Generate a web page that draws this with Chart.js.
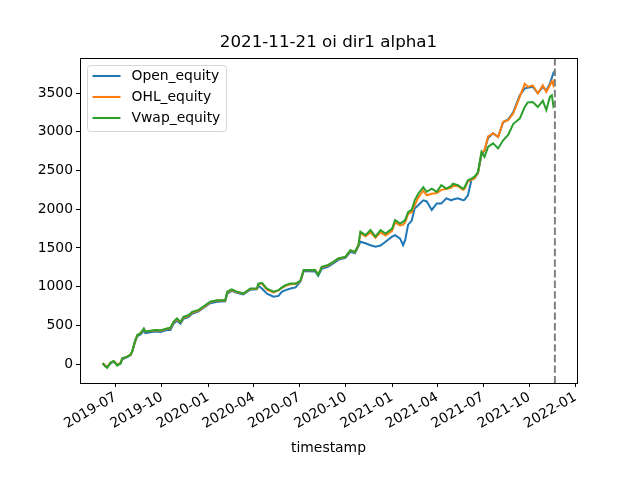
<!DOCTYPE html>
<html>
<head>
<meta charset="utf-8">
<script src="https://cdn.jsdelivr.net/npm/chart.js@4.4.0/dist/chart.umd.min.js"></script>
<style>
  html, body { margin: 0; padding: 0; background: #fff; }
  #wrap { width: 640px; height: 480px; }
</style>
</head>
<body>
<div id="wrap"><canvas id="equityChart" width="640" height="480"></canvas></div>
<script>
const dates = [
  "2019-06-05", "2019-06-10", "2019-06-14", "2019-06-21", "2019-06-27", "2019-07-04", "2019-07-11", "2019-07-14",
  "2019-07-24", "2019-07-31", "2019-08-03", "2019-08-08", "2019-08-13", "2019-08-19", "2019-08-26", "2019-08-29",
  "2019-09-08", "2019-09-18", "2019-09-28", "2019-10-11", "2019-10-18", "2019-10-24", "2019-10-31", "2019-11-07",
  "2019-11-13", "2019-11-23", "2019-11-30", "2019-12-13", "2019-12-26", "2020-01-05", "2020-01-19", "2020-02-04",
  "2020-02-08", "2020-02-17", "2020-02-27", "2020-03-11", "2020-03-25", "2020-04-07", "2020-04-10", "2020-04-17",
  "2020-04-27", "2020-05-10", "2020-05-20", "2020-05-27", "2020-06-03", "2020-06-13", "2020-06-23", "2020-06-29",
  "2020-07-03", "2020-07-09", "2020-07-16", "2020-08-01", "2020-08-07", "2020-08-14", "2020-08-27", "2020-09-06",
  "2020-09-16", "2020-09-30", "2020-10-10", "2020-10-19", "2020-10-26", "2020-10-30", "2020-11-09", "2020-11-19",
  "2020-11-29", "2020-12-09", "2020-12-19", "2021-01-01", "2021-01-07", "2021-01-17", "2021-01-23", "2021-01-27",
  "2021-02-02", "2021-02-09", "2021-02-15", "2021-02-22", "2021-03-04", "2021-03-11", "2021-03-21", "2021-03-31",
  "2021-04-09", "2021-04-19", "2021-04-29", "2021-05-02", "2021-05-12", "2021-05-22", "2021-05-25", "2021-06-01",
  "2021-06-08", "2021-06-14", "2021-06-21", "2021-06-28", "2021-07-04", "2021-07-11", "2021-07-21", "2021-07-31",
  "2021-08-10", "2021-08-20", "2021-08-30", "2021-09-12", "2021-09-22", "2021-09-28", "2021-10-08", "2021-10-18",
  "2021-10-28", "2021-11-04", "2021-11-11", "2021-11-15", "2021-11-18", "2021-11-20"
];

const openEquity = [
  10, -20, -40, 10, 30, -10, 10, 60,
  90, 115, 160, 270, 360, 380, 430, 400,
  410, 420, 415, 440, 440, 520, 560, 520,
  585, 605, 650, 680, 740, 785, 805, 810,
  910, 945, 920, 900, 960, 965, 1010, 975,
  910, 870, 880, 935, 955, 975, 990, 1040,
  1070, 1200, 1200, 1195, 1140, 1230, 1260, 1300,
  1345, 1370, 1450, 1430, 1520, 1580, 1560, 1535,
  1515, 1530, 1580, 1645, 1665, 1620, 1535, 1600,
  1800, 1850, 2010, 2050, 2115, 2100, 1990, 2075,
  2075, 2140, 2115, 2125, 2140, 2115, 2120, 2180,
  2380, 2400, 2470, 2700, 2760, 2920, 2980, 2935,
  3120, 3160, 3250, 3470, 3560, 3570, 3580, 3500,
  3580, 3530, 3620, 3700, 3760, 3780
];

const ohlEquity = [
  10, -20, -40, 20, 40, -10, 20, 70,
  95, 120, 165, 280, 370, 395, 450, 420,
  425, 435, 430, 455, 460, 540, 580, 540,
  600, 620, 665, 690, 750, 800, 820, 820,
  925, 955, 930, 910, 970, 970, 1030, 1040,
  960, 925, 950, 985, 1010, 1030, 1035, 1055,
  1080, 1210, 1210, 1210, 1160, 1250, 1275, 1315,
  1360, 1380, 1465, 1445, 1530, 1690, 1650, 1700,
  1630, 1700, 1660, 1720, 1830, 1790, 1800, 1830,
  1940, 1960, 2050, 2150, 2240, 2180, 2200, 2210,
  2250, 2260, 2280, 2300, 2300, 2250, 2260, 2360,
  2380, 2400, 2470, 2730, 2760, 2940, 2980, 2935,
  3130, 3150, 3235, 3450, 3620, 3580, 3600, 3495,
  3600, 3515, 3600, 3650, 3600, 3680
];

const vwapEquity = [
  10, -30, -50, 20, 40, -20, 10, 75,
  95, 125, 170, 290, 375, 395, 460, 420,
  430, 440, 435, 460, 470, 545, 590, 545,
  610, 630, 675, 700, 760, 805, 825, 825,
  935, 965, 935, 910, 975, 975, 1040, 1050,
  975, 935, 955, 990, 1020, 1040, 1040, 1060,
  1085, 1215, 1215, 1215, 1150, 1255, 1280, 1320,
  1365, 1385, 1470, 1450, 1535, 1710, 1665, 1730,
  1645, 1730, 1685, 1750, 1860, 1815, 1840, 1860,
  1965, 1990, 2115, 2200, 2285, 2225, 2265, 2225,
  2310, 2265, 2300, 2330, 2310, 2265, 2280, 2375,
  2395, 2420, 2480, 2740, 2675, 2805, 2850, 2785,
  2890, 2960, 3100, 3170, 3320, 3380, 3385, 3320,
  3400, 3280, 3450, 3470, 3330, 3350
];

const seriesNames = ["Open_equity", "OHL_equity", "Vwap_equity"];
const seriesColors = ["#1f77b4", "#ff7f0e", "#2ca02c"];
const xTickLabels = ["2019-07", "2019-10", "2020-01", "2020-04", "2020-07", "2020-10",
  "2021-01", "2021-04", "2021-07", "2021-10", "2022-01"];
const yTickValues = [0, 500, 1000, 1500, 2000, 2500, 3000, 3500];
const markerDate = "2021-11-21";
const chartTitle = "2021-11-21 oi dir1 alpha1";
const xRange = ["2019-04-21", "2022-01-04"];
const yRange = [-245, 3953];

const FONT = "'DejaVu Sans', sans-serif";

function toPoints(values) {
  return dates.map((d, i) => ({ x: Date.parse(d), y: values[i] }));
}

function monthLabel(value) {
  const d = new Date(value);
  return d.getUTCFullYear() + "-" + String(d.getUTCMonth() + 1).padStart(2, "0");
}

// spines on all four sides, dashed marker line, title centred over the axes
const axesFrame = {
  id: "axesFrame",
  afterDatasetsDraw(chart) {
    const { ctx, chartArea, scales } = chart;
    const xm = scales.x.getPixelForValue(Date.parse(markerDate));
    ctx.save();
    ctx.strokeStyle = "#808080";
    ctx.lineWidth = 2;
    ctx.setLineDash([7.4, 3.2]);
    ctx.beginPath();
    ctx.moveTo(xm, chartArea.top);
    ctx.lineTo(xm, chartArea.bottom);
    ctx.stroke();
    ctx.restore();
  },
  afterDraw(chart) {
    const { ctx, chartArea } = chart;
    ctx.save();
    ctx.strokeStyle = "#000";
    ctx.lineWidth = 1;
    ctx.strokeRect(Math.round(chartArea.left) + 0.5, Math.round(chartArea.top) + 0.5,
      Math.round(chartArea.right - chartArea.left), Math.round(chartArea.bottom - chartArea.top));

    ctx.fillStyle = "#000";
    ctx.font = "16.7px " + FONT;
    ctx.textAlign = "center";
    ctx.textBaseline = "middle";
    ctx.fillText(chartTitle, (chartArea.left + chartArea.right) / 2, chartArea.top - 15);
    ctx.restore();
  }
};

// matplotlib style legend inside the axes, upper left
const innerLegend = {
  id: "innerLegend",
  afterDraw(chart) {
    const { ctx, chartArea } = chart;
    const x0 = chartArea.left + 7.5;
    const y0 = chartArea.top + 7.5;
    const w = 139;
    const h = 66;
    const r = 3;
    ctx.save();
    ctx.fillStyle = "rgba(255,255,255,0.8)";
    ctx.strokeStyle = "#d6d6d6";
    ctx.lineWidth = 1;
    ctx.beginPath();
    ctx.moveTo(x0 + r, y0);
    ctx.arcTo(x0 + w, y0, x0 + w, y0 + h, r);
    ctx.arcTo(x0 + w, y0 + h, x0, y0 + h, r);
    ctx.arcTo(x0, y0 + h, x0, y0, r);
    ctx.arcTo(x0, y0, x0 + w, y0, r);
    ctx.closePath();
    ctx.fill();
    ctx.stroke();

    ctx.font = "13.9px " + FONT;
    ctx.textBaseline = "middle";
    ctx.textAlign = "left";
    chart.data.datasets.forEach((ds, i) => {
      const y = y0 + 10.5 + i * 21;
      ctx.strokeStyle = ds.borderColor;
      ctx.lineWidth = 2.1;
      ctx.beginPath();
      ctx.moveTo(x0 + 5, y);
      ctx.lineTo(x0 + 33, y);
      ctx.stroke();
      ctx.fillStyle = "#000";
      ctx.fillText(ds.label, x0 + 44, y);
    });
    ctx.restore();
  }
};

new Chart(document.getElementById("equityChart"), {
  type: "line",
  data: {
    datasets: [openEquity, ohlEquity, vwapEquity].map((values, i) => ({
      label: seriesNames[i],
      data: toPoints(values),
      borderColor: seriesColors[i],
      backgroundColor: seriesColors[i],
      borderWidth: 2,
      pointRadius: 0,
      tension: 0,
      fill: false,
      order: 2 - i
    }))
  },
  options: {
    responsive: false,
    animation: false,
    devicePixelRatio: 1,
    layout: { padding: { left: 0, right: 63, top: 58, bottom: 0 } },
    plugins: {
      legend: { display: false },
      tooltip: { enabled: false },
      title: { display: false }
    },
    scales: {
      x: {
        type: "linear",
        min: Date.parse(xRange[0]),
        max: Date.parse(xRange[1]),
        afterBuildTicks: scale => {
          scale.ticks = xTickLabels.map(l => ({ value: Date.parse(l + "-01") }));
        },
        afterFit: scale => { scale.height = 97; },
        grid: { drawOnChartArea: false, drawTicks: true, tickLength: 4, tickColor: "#000", tickWidth: 1 },
        border: { display: false },
        ticks: {
          autoSkip: false,
          minRotation: 30,
          maxRotation: 30,
          padding: 2,
          color: "#000",
          font: { family: FONT, size: 13.9 },
          callback: value => monthLabel(value)
        },
        title: {
          display: true,
          text: "timestamp",
          color: "#000",
          font: { family: FONT, size: 13.9 },
          padding: { top: 0, bottom: 23 }
        }
      },
      y: {
        type: "linear",
        min: yRange[0],
        max: yRange[1],
        afterBuildTicks: scale => {
          scale.ticks = yTickValues.map(v => ({ value: v }));
        },
        afterFit: scale => { scale.width = 80; },
        grid: { drawOnChartArea: false, drawTicks: true, tickLength: 4, tickColor: "#000", tickWidth: 1 },
        border: { display: false },
        ticks: {
          padding: 3,
          color: "#000",
          font: { family: FONT, size: 13.9 },
          callback: value => String(value)
        }
      }
    }
  },
  plugins: [axesFrame, innerLegend]
});
</script>
</body>
</html>
